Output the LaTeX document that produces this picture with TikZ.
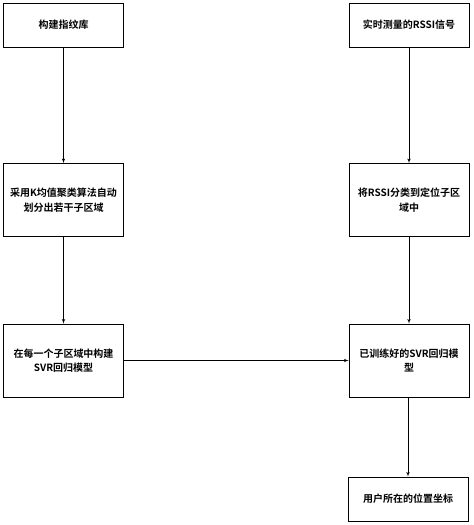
\documentclass[tikz,border=0pt]{standalone}
\usepackage{fontspec}
\setmainfont{Noto Sans CJK SC}[BoldFont={* Bold}]
\usepackage{tikz}
\usetikzlibrary{arrows}

\begin{document}
\begin{tikzpicture}[x=1pt, y=1pt, ->, >=latex', semithick, every node/.style={font=\fontsize{10}{14.5}\selectfont\bfseries},
	box/.style={draw, rectangle, minimum width=120pt, align=center, inner sep=2pt},
	lowbox/.style={box, minimum height=44pt},
	tallbox/.style={box, minimum height=73pt}]
		\useasboundingbox (0, 0) rectangle (474, -525);
		\node[lowbox]	(lib)		at (63.5, -25)		{构建指纹库};
		\node[tallbox]	(kmeans)	at (63.5, -200)		{采用K均值聚类算法自动\\划分出若干子区域};
		\node[tallbox]	(build)		at (63.5, -360.5)	{在每一个子区域中构建\\SVR回归模型};
		\node[lowbox]	(rssi)		at (409, -25)		{实时测量的RSSI信号};
		\node[tallbox]	(classify)	at (409, -200)		{将RSSI分类到定位子区\\域中};
		\node[tallbox]	(svr)		at (409, -360.5)	{已训练好的SVR回归模\\型};
		\node[lowbox]	(pos)		at (408, -499)		{用户所在的位置坐标};
		
		\path	(lib) edge (kmeans)
				(kmeans) edge (build)
				(build) edge (svr)
				(rssi) edge (classify)
				(classify) edge (svr)
				(svr.south -| pos) edge (pos);
	\end{tikzpicture}
\end{document}
